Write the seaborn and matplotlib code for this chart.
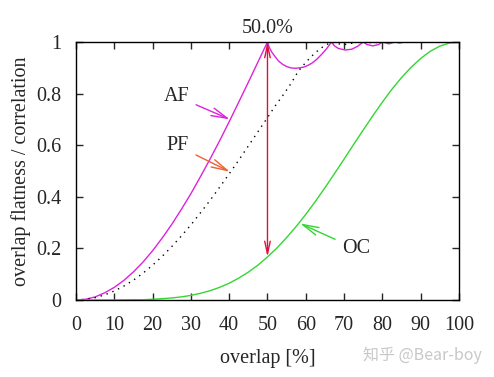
import matplotlib
matplotlib.use("Agg")
import matplotlib.pyplot as plt
import seaborn as sns
import pandas as pd

# waarden (overlap in %)
af_x = [0, 2.5, 5, 7.5, 10, 12.5, 15, 17.5, 20, 22.5, 25, 27.5, 30, 32.5, 35, 37.5, 40, 42.5, 45, 47.5, 50,
        50.5, 51.2, 52, 52.9, 54, 55, 56, 57.3, 58.5, 59.5, 60.5, 61.6, 62.8, 64.2, 65.5, 66.7,
        67.5, 68.5, 70.3, 72, 73.5, 75,
        76, 77.5, 79, 80,
        81.7, 83.3, 84.5, 85.7, 90, 95, 100]
af_y = [0, 0.003, 0.012, 0.028, 0.049, 0.076, 0.109, 0.147, 0.191, 0.240, 0.293, 0.351, 0.412, 0.478,
        0.546, 0.617, 0.691, 0.767, 0.844, 0.922, 1.0,
        0.978, 0.959, 0.943, 0.926, 0.913, 0.905, 0.9, 0.898, 0.9, 0.903, 0.909, 0.918, 0.932, 0.953, 0.975, 1.0,
        0.985, 0.975, 0.969, 0.972, 0.983, 1.0,
        0.99, 0.985, 0.99, 1.0,
        0.993, 1.0, 0.996, 1.0, 1.0, 1.0, 1.0]

pf_x = [0, 2.5, 5, 7.5, 10, 12.5, 15, 17.5, 20, 22.5, 25, 27.5, 30, 32.5, 35, 37.5, 40, 42.5, 45, 47.5, 50,
        52, 54.2, 56, 58.1, 60.3, 62.5, 64.7, 66.7,
        68.5, 70, 71.5, 73, 75, 77.5, 80, 90, 100]
pf_y = [0, 0.002, 0.009, 0.020, 0.035, 0.054, 0.077, 0.104, 0.135, 0.169, 0.207, 0.248, 0.291, 0.338,
        0.386, 0.437, 0.489, 0.542, 0.597, 0.652, 0.707,
        0.752, 0.797, 0.836, 0.888, 0.926, 0.959, 0.984, 1.0,
        0.993, 0.99, 0.993, 1.0, 1.0, 0.997, 1.0, 1.0, 1.0]

oc_x = [0, 10, 15, 17.5, 20, 22.5, 25, 27.5, 30, 32.5, 35, 37.5, 40, 42.5, 45, 47.5, 50, 52.5, 55, 57.5,
        60, 62.5, 65, 67.5, 70, 72.5, 75, 77.5, 80, 82.5, 85, 87.5, 90, 92.5, 95, 97.5, 100]
oc_y = [0, 0.0, 0.001, 0.001, 0.003, 0.005, 0.008, 0.012, 0.018, 0.026, 0.036, 0.049, 0.065, 0.085,
        0.108, 0.135, 0.167, 0.202, 0.242, 0.285, 0.332, 0.382, 0.435, 0.490, 0.546, 0.603, 0.659,
        0.714, 0.767, 0.817, 0.862, 0.902, 0.936, 0.964, 0.984, 0.996, 1.0]

x_ticks = [0, 10, 20, 30, 40, 50, 60, 70, 80, 90, 100]
y_ticks = [0, 0.2, 0.4, 0.6, 0.8, 1.0]
y_labels = ["0", "0.2", "0.4", "0.6", "0.8", "1"]

af_df = pd.DataFrame({"overlap": af_x, "value": af_y})
pf_df = pd.DataFrame({"overlap": pf_x, "value": pf_y})
oc_df = pd.DataFrame({"overlap": oc_x, "value": oc_y})

sns.set_style("ticks")
plt.rcParams["font.family"] = ["Liberation Serif", "DejaVu Serif"]

kleur_af = "#dd22dd"
kleur_pf = "#f06030"
kleur_oc = "#33d633"
kleur_rood = "#e0103c"
fs = 14.5

fig = plt.figure(figsize=(4.94, 3.77), dpi=100)
ax = fig.add_axes([0.1538, 0.2042, 0.7753, 0.6844])

sns.lineplot(data=af_df, x="overlap", y="value", color=kleur_af, lw=1.0, ax=ax)
sns.lineplot(data=pf_df, x="overlap", y="value", color="black", lw=1.0,
             linestyle=(0, (1, 3.5)), ax=ax)
sns.lineplot(data=oc_df, x="overlap", y="value", color=kleur_oc, lw=1.0, ax=ax)

ax.set_xlim(0, 100)
ax.set_ylim(0, 1)
ax.set_xticks(x_ticks)
ax.set_yticks(y_ticks)
ax.set_yticklabels(y_labels)
ax.tick_params(direction="in", top=True, right=True, length=5, width=1, labelsize=fs)
ax.tick_params(axis="x", pad=11.5)
ax.tick_params(axis="y", pad=10.5)
for sp in ax.spines.values():
    sp.set_linewidth(1.0)
    sp.set_color("black")

ax.set_xlabel("overlap [%]", fontsize=fs, labelpad=10)
ax.set_ylabel("overlap flatness / correlation", fontsize=fs, labelpad=4)

# annotaties
ax.text(50, 1.015, "50.0%", ha="center", va="bottom", fontsize=fs)
ax.annotate("", xy=(50, 0.167), xytext=(50, 1.0),
            arrowprops=dict(arrowstyle="<->,head_length=0.9,head_width=0.2",
                            color=kleur_rood, lw=1.0, shrinkA=0, shrinkB=0))
ax.annotate("AF", xy=(40.2, 0.70), xytext=(29.5, 0.79), ha="right", va="center", fontsize=fs,
            arrowprops=dict(arrowstyle="->,head_length=0.8,head_width=0.2",
                            color=kleur_af, lw=1.0, shrinkA=3, shrinkB=0))
ax.annotate("PF", xy=(40.2, 0.497), xytext=(29.5, 0.597), ha="right", va="center", fontsize=fs,
            arrowprops=dict(arrowstyle="->,head_length=0.8,head_width=0.2",
                            color=kleur_pf, lw=1.0, shrinkA=3, shrinkB=0))
ax.annotate("OC", xy=(58.5, 0.297), xytext=(69.5, 0.198), ha="left", va="center", fontsize=fs,
            arrowprops=dict(arrowstyle="->,head_length=0.8,head_width=0.2",
                            color=kleur_oc, lw=1.0, shrinkA=3, shrinkB=0))

# watermerk
fig.text(0.975, 0.058, "知乎 @Bear-boy", ha="right", va="center", fontsize=11.5,
         color="#c8c8c8", family=["Noto Sans CJK SC", "DejaVu Sans"])

fig.savefig("out.png", dpi=100)
